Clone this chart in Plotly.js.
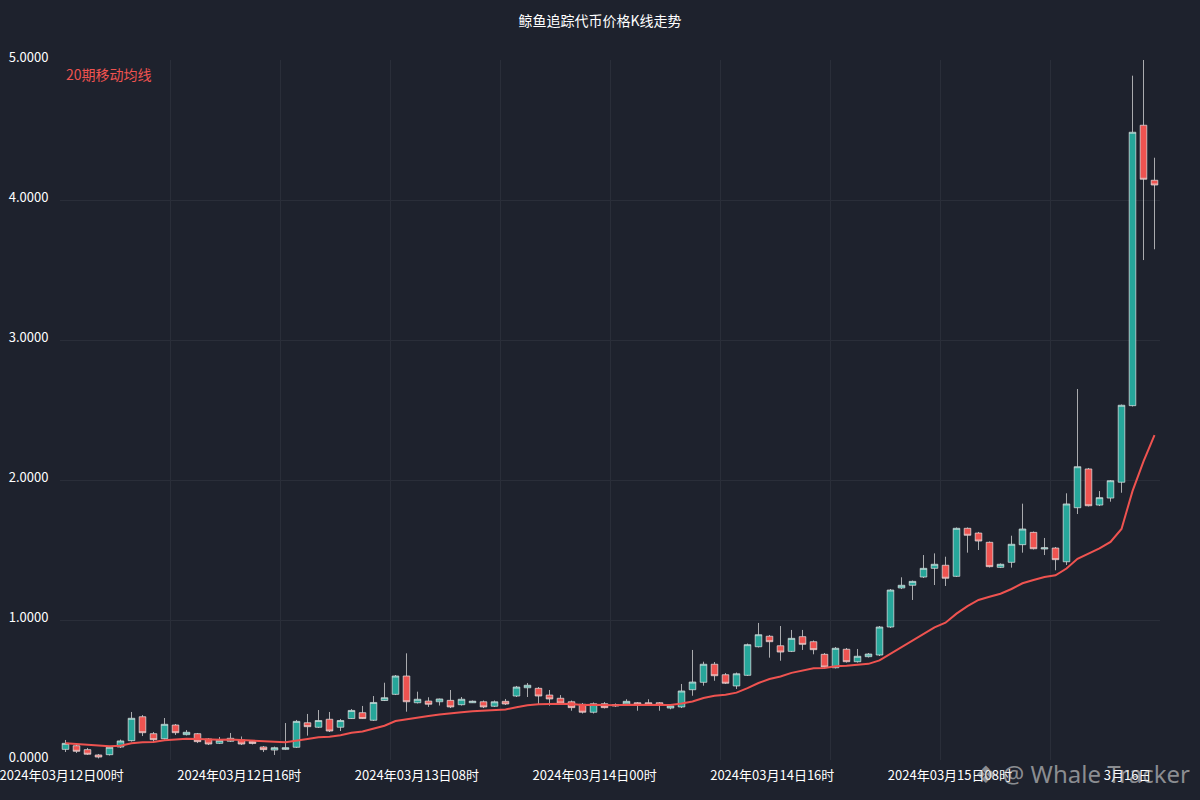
<!DOCTYPE html>
<html>
<head>
<meta charset="utf-8">
<script src="https://cdn.plot.ly/plotly-3.0.1.min.js"></script>
<style>html,body{margin:0;padding:0;background:#1e222d;}#chart{width:1200px;height:800px;}</style>
</head>
<body>
<div id="chart"></div>
<script>
const chartTitle = "鲸鱼追踪代币价格K线走势";
const maLabel = "20期移动均线";
const xTickText = ["2024年03月12日00时","2024年03月12日16时","2024年03月13日08时","2024年03月14日00时","2024年03月14日16时","2024年03月15日08时","3月16日"];

const opens = [0.076,0.102,0.074,0.036,0.038,0.093,0.138,0.309,0.188,0.152,
0.250,0.181,0.188,0.150,0.119,0.134,0.143,0.132,0.093,0.071,
0.076,0.091,0.266,0.234,0.291,0.234,0.296,0.338,0.284,0.425,
0.469,0.600,0.409,0.421,0.416,0.426,0.395,0.409,0.416,0.384,
0.419,0.457,0.516,0.512,0.464,0.441,0.416,0.398,0.341,0.402,
0.396,0.400,0.409,0.409,0.409,0.371,0.379,0.502,0.555,0.684,
0.609,0.529,0.605,0.809,0.884,0.816,0.776,0.881,0.845,0.755,
0.659,0.791,0.702,0.738,0.750,0.950,1.229,1.248,1.307,1.369,
1.391,1.312,1.655,1.621,1.555,1.376,1.412,1.538,1.626,1.507,
1.514,1.416,1.802,2.079,1.821,1.871,1.984,2.531,4.534,4.141];

const closes = [0.119,0.062,0.041,0.021,0.091,0.136,0.298,0.195,0.145,0.255,
0.195,0.198,0.131,0.114,0.141,0.155,0.114,0.118,0.074,0.088,
0.088,0.276,0.238,0.282,0.207,0.282,0.354,0.296,0.411,0.445,
0.600,0.416,0.434,0.398,0.436,0.379,0.434,0.420,0.379,0.416,
0.400,0.521,0.534,0.457,0.436,0.407,0.374,0.341,0.402,0.374,
0.386,0.419,0.396,0.396,0.391,0.386,0.493,0.557,0.684,0.602,
0.548,0.616,0.824,0.895,0.845,0.771,0.869,0.826,0.788,0.664,
0.798,0.702,0.741,0.757,0.950,1.214,1.248,1.276,1.369,1.398,
1.298,1.655,1.605,1.564,1.381,1.398,1.541,1.650,1.509,1.516,
1.431,1.829,2.095,1.816,1.874,1.995,2.534,4.484,4.148,4.107];

const highs = [0.143,0.121,0.086,0.043,0.100,0.146,0.343,0.321,0.200,0.300,
0.257,0.214,0.193,0.157,0.164,0.193,0.168,0.136,0.100,0.096,
0.264,0.286,0.329,0.357,0.343,0.293,0.364,0.386,0.457,0.552,
0.607,0.762,0.488,0.448,0.439,0.500,0.450,0.425,0.425,0.425,
0.436,0.529,0.550,0.521,0.500,0.464,0.425,0.407,0.411,0.414,
0.404,0.434,0.414,0.434,0.414,0.393,0.543,0.786,0.702,0.700,
0.621,0.625,0.832,0.979,0.893,0.957,0.929,0.929,0.854,0.764,
0.807,0.800,0.793,0.764,0.957,1.221,1.305,1.282,1.464,1.476,
1.452,1.661,1.661,1.629,1.561,1.404,1.602,1.831,1.632,1.586,
1.521,1.905,2.650,2.086,1.921,2.000,2.539,4.888,5.000,4.302];

const lows = [0.057,0.050,0.036,0.011,0.032,0.086,0.132,0.171,0.124,0.146,
0.179,0.175,0.121,0.107,0.114,0.129,0.107,0.111,0.057,0.036,
0.071,0.086,0.174,0.229,0.200,0.207,0.293,0.293,0.279,0.421,
0.464,0.345,0.404,0.379,0.389,0.371,0.389,0.407,0.371,0.379,
0.393,0.450,0.450,0.393,0.388,0.400,0.352,0.332,0.332,0.368,
0.379,0.396,0.352,0.393,0.352,0.362,0.371,0.459,0.531,0.566,
0.543,0.507,0.600,0.804,0.731,0.709,0.771,0.786,0.755,0.657,
0.654,0.696,0.696,0.732,0.743,0.943,1.221,1.143,1.300,1.250,
1.243,1.307,1.481,1.500,1.375,1.371,1.374,1.481,1.504,1.464,
1.355,1.393,1.757,1.811,1.814,1.845,1.909,2.525,3.571,3.648];

const maPeriod = 20;

// candle index positions
const idx = closes.map((_, i) => i);
// exponential moving average of closes
const alpha = 2 / (maPeriod + 1);
const ma = [];
closes.forEach((c, i) => { ma.push(i === 0 ? c : ma[i - 1] + alpha * (c - ma[i - 1])); });

const UP = '#26a69a', DOWN = '#ef5350', BG = '#1e222d', GRID = '#2a2e39';
const FONT = '"Noto Sans CJK SC", "Noto Sans", "DejaVu Sans", sans-serif';
const EDGE = 'rgba(230,230,230,0.7)';

const traces = [
  {
    type: 'candlestick', x: idx, open: opens, high: highs, low: lows, close: closes,
    increasing: {line: {color: EDGE, width: 1}, fillcolor: UP},
    decreasing: {line: {color: EDGE, width: 1}, fillcolor: DOWN},
    hoverinfo: 'skip', showlegend: false
  },
  {
    type: 'scatter', mode: 'lines', x: idx, y: ma,
    line: {color: DOWN, width: 2}, hoverinfo: 'skip', showlegend: false
  }
];

const layout = {
  width: 1200, height: 800,
  paper_bgcolor: BG, plot_bgcolor: BG,
  margin: {l: 60, r: 40, t: 60, b: 40},
  font: {family: FONT, color: '#ffffff', size: 13},
  boxgap: 0.14,
  title: {text: chartTitle, x: 0.5, xanchor: 'center', y: 0.974, yanchor: 'middle', font: {size: 14, color: '#ffffff', family: FONT}},
  showlegend: false,
  hovermode: false,
  xaxis: {
    range: [-0.5, 99.5], rangeslider: {visible: false},
    tickmode: 'array', tickvals: [-0.35, 15.8, 31.95, 48.1, 64.25, 80.4, 96.55], ticktext: xTickText,
    ticklabeloverflow: 'allow',
    ticks: 'outside', ticklen: 3, tickcolor: 'rgba(0,0,0,0)',
    tickfont: {size: 13, color: '#ffffff'}, showgrid: false, zeroline: false, showline: false,
    minor: {tick0: -0.5, dtick: 10, showgrid: true, gridcolor: GRID, gridwidth: 1, ticks: ''},
    fixedrange: true
  },
  yaxis: {
    range: [0, 5], tick0: 0, dtick: 1, tickformat: '.4f',
    gridcolor: GRID, gridwidth: 1, zeroline: false, showline: false,
    ticks: 'outside', ticklen: 8, tickcolor: 'rgba(0,0,0,0)', ticklabelshift: -3,
    tickfont: {size: 13, color: '#ffffff'}, fixedrange: true
  },
  annotations: [
    {text: maLabel, xref: 'paper', yref: 'paper', x: 0, y: 1, xanchor: 'left', yanchor: 'top',
     xshift: 4, yshift: -2, showarrow: false, font: {size: 14, color: DOWN, family: FONT}},
    {text: '❖ @ Whale Tracker', xref: 'paper', yref: 'paper', x: 1.029, y: -0.019, xanchor: 'right', yanchor: 'middle',
     showarrow: false, font: {size: 24, color: 'rgba(215,215,215,0.6)', family: '"Noto Sans", "DejaVu Sans", sans-serif'}}
  ]
};

Plotly.newPlot('chart', traces, layout, {displayModeBar: false, staticPlot: true});
</script>
</body>
</html>
